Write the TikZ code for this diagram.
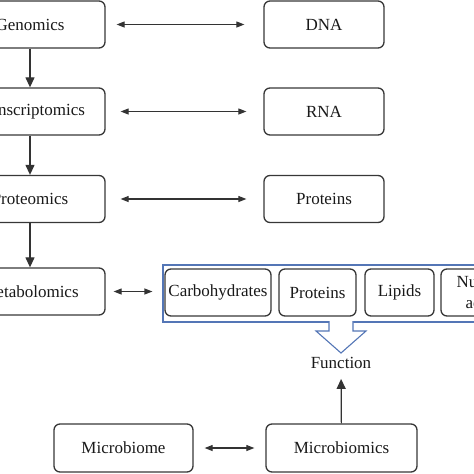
\documentclass[tikz,border=0pt]{standalone}
\usepackage{fontspec}
\setmainfont{Liberation Serif}
\usetikzlibrary{arrows.meta}
\definecolor{boxgray}{RGB}{55,55,55}
\definecolor{panelblue}{RGB}{84,118,182}

\begin{document}
\begin{tikzpicture}[x=1pt, y=-1pt,
    omics/.style={draw=boxgray, line width=1.3pt, rounded corners=6pt, minimum height=47pt, inner sep=0pt, align=center, text=black!90, font=\fontsize{17}{21}\selectfont},
    link/.style={draw=black!80, line width=1.1pt, {Triangle[length=8pt,width=6pt]}-{Triangle[length=8pt,width=6pt]}},
    flow/.style={draw=black!80, line width=1.2pt, -{Triangle[length=10pt,width=9pt]}}]
    \useasboundingbox (0,0) rectangle (474,474);
    \clip (0,0) rectangle (474,474);

    % omics levels
    \node[omics, minimum width=150pt] (gen) at (30,24.5) {Genomics};
    \node[omics, minimum width=150pt] (trn) at (30,111.5) {Transcriptomics};
    \node[omics, minimum width=150pt] (prt) at (30,199) {Proteomics};
    \node[omics, minimum width=150pt] (met) at (30,291.5) {Metabolomics};

    % molecules
    \node[omics, minimum width=120pt] (dna) at (324,24.5) {DNA};
    \node[omics, minimum width=120pt] (rna) at (324,111.5) {RNA};
    \node[omics, minimum width=120pt] (pro) at (324,199) {Proteins};

    % metabolites panel
    \node[draw=panelblue, line width=1.1pt, minimum width=367pt, minimum height=57pt, inner sep=0pt] (panel) at (346.5,293.5) {};
    \node[omics, minimum width=106pt] (carb) at (218,292.5) {Carbohydrates};
    \node[omics, minimum width=77pt] (prot) at (317.5,292.5) {Proteins};
    \node[omics, minimum width=69pt] (lip) at (399.5,292.5) {Lipids};
    \node[omics, minimum width=84pt] (nuc) at (483,292.5) {Nucleic\\acids};
    \draw[panelblue, line width=1.1pt, fill=white] (329,321) -- (329,331) -- (316,331) -- (341,353) -- (366,331) -- (353,331) -- (353,321);
    \node[text=black!90, font=\fontsize{17}{21}\selectfont, inner sep=3pt] (fn) at (341,363) {Function};

    % microbiome
    \node[omics, minimum width=139pt, minimum height=48pt] (mbe) at (123.5,448) {Microbiome};
    \node[omics, minimum width=151pt, minimum height=48pt] (mbx) at (341.5,448) {Microbiomics};

    % connectors
    \draw[flow] (gen) -- (trn);
    \draw[flow] (trn) -- (prt);
    \draw[flow] (prt) -- (met);
    \draw[link] ([xshift=11pt]gen.east) -- ([xshift=-19pt]dna.west);
    \draw[link] ([xshift=15pt]trn.east) -- ([xshift=-17pt]rna.west);
    \draw[link] ([xshift=15pt]prt.east) -- ([xshift=-17pt]pro.west);
    \draw[link] ([xshift=8pt]met.east) -- ([xshift=-10pt]panel.west |- met.east);
    \draw[link] ([xshift=11pt]mbe.east) -- ([xshift=-11pt]mbx.west);
    \draw[flow, shorten >=7pt] (mbx) -- (fn);
\end{tikzpicture}
\end{document}
